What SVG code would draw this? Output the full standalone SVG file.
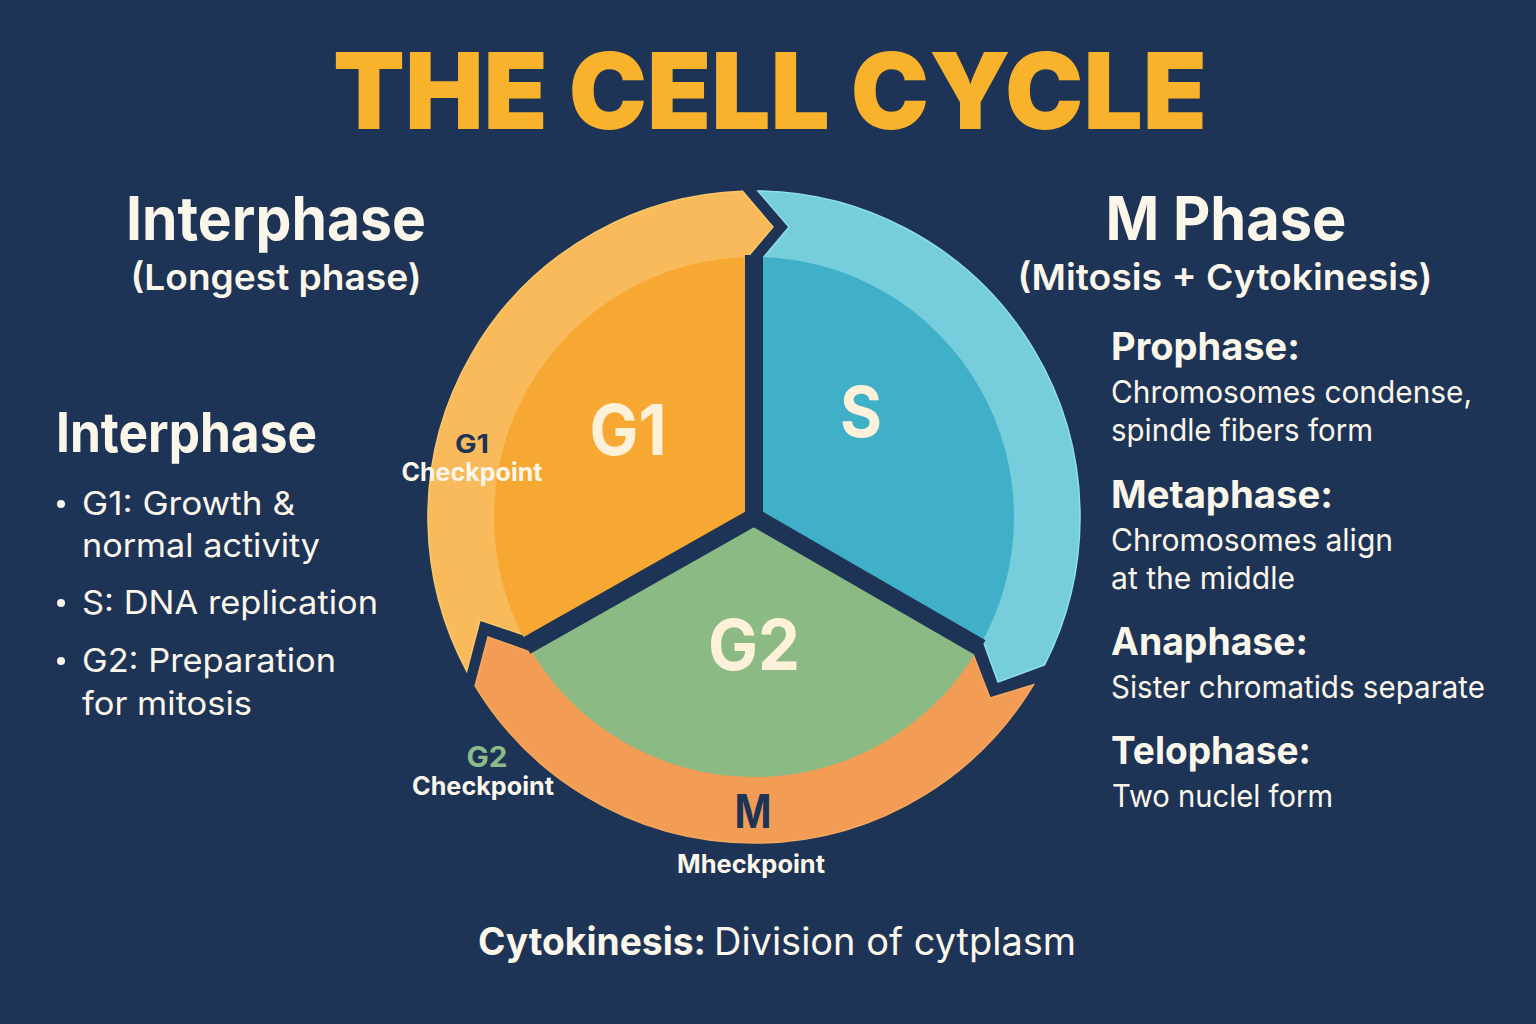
<svg xmlns="http://www.w3.org/2000/svg" width="1536" height="1024" viewBox="0 0 1536 1024">
<style>
text { font-family: Inter, "Noto Sans", "Liberation Sans", sans-serif; fill: #FBF6EA; }
.title { font-size: 106px; font-weight: 900; fill: #F9B22B; }
.h1 { font-size: 60px; font-weight: 700; }
.sub { font-size: 36px; font-weight: 600; }
.h2 { font-size: 55px; font-weight: 700; }
.li { font-size: 33px; font-weight: 400; }
.ph { font-size: 38px; font-weight: 700; }
.bd { font-size: 31px; font-weight: 400; }
.big { font-size: 70px; font-weight: 700; fill: #FDF1DA; }
.ck { font-size: 25px; font-weight: 700; }
.nv { fill: #1E3456; }
.gap { stroke: #1E3456; stroke-width: 18; fill: none; }
</style>
<rect width="1536" height="1024" fill="#1E3456"/>

<text class="title" x="770" y="129" text-anchor="middle" textLength="874" lengthAdjust="spacingAndGlyphs">THE CELL CYCLE</text>

<g id="ring-arrows">
  <path id="arrow-g1" d="M466.7,671.1 A326,326 0 0 1 742.6,191.2 L773,227 L745,260 L745.3,267.2 A250,250 0 0 0 532,632.3 L525.5,635.5 L480,620 Z" fill="#F8BA5B" stroke="#FBC868" stroke-width="1.5"/>
  <path id="arrow-s" d="M758,191 A326,326 0 0 1 1044.5,665 L998,682 L982,638 L975,634.2 A250,250 0 0 0 763,267.2 L763,258 L789,227 Z" fill="#76CDDB" stroke="#8FE0EA" stroke-width="1.5"/>
  <path id="arrow-m" d="M1033.4,684.9 A326,326 0 0 1 475.1,685.9 L488,637 L532.1,652.8 L540.8,647.9 A250,250 0 0 0 966,649.8 L972.9,653.8 L990,698 Z" fill="#F39C55" stroke="#F6A85C" stroke-width="1.5"/>
</g>

<g id="node-g1">
  <path d="M754,517 L527.7,645 A260,260 0 0 1 754,257 Z" fill="#F6A832"/>
  <text class="big" x="628" y="455" text-anchor="middle" textLength="77" lengthAdjust="spacingAndGlyphs">G1</text>
</g>
<g id="node-s">
  <path d="M754,517 L754,257 A260,260 0 0 1 979.2,647 Z" fill="#3FB0C8"/>
  <text class="big" x="861" y="437" text-anchor="middle" textLength="42" lengthAdjust="spacingAndGlyphs">S</text>
</g>
<g id="node-g2">
  <path d="M754,517 L979.2,647 A260,260 0 0 1 527.7,645 Z" fill="#8BBA84"/>
  <text class="big" x="754" y="670" text-anchor="middle" textLength="92" lengthAdjust="spacingAndGlyphs">G2</text>
</g>
<g id="separators">
  <line class="gap" x1="754" y1="517" x2="754" y2="255"/>
  <line class="gap" x1="754" y1="517" x2="525.9" y2="646"/>
  <line class="gap" x1="754" y1="517" x2="981" y2="648"/>
  <circle cx="754" cy="517" r="9" fill="#1E3456"/>
</g>

<g id="label-g1-checkpoint">
  <text class="ck nv" x="472" y="453" text-anchor="middle" font-size="26" textLength="34" lengthAdjust="spacingAndGlyphs">G1</text>
  <text class="ck" x="472" y="481" text-anchor="middle" textLength="141" lengthAdjust="spacingAndGlyphs">Checkpoint</text>
</g>
<g id="label-g2-checkpoint">
  <text class="ck" x="487" y="767" text-anchor="middle" style="font-size:28px;fill:#8BBB88" textLength="41" lengthAdjust="spacingAndGlyphs">G2</text>
  <text class="ck" x="483" y="795" text-anchor="middle" textLength="142" lengthAdjust="spacingAndGlyphs">Checkpoint</text>
</g>
<g id="label-m-checkpoint">
  <text class="nv" x="753" y="828" text-anchor="middle" style="font-size:46px;font-weight:700;fill:#1E3456" textLength="37" lengthAdjust="spacingAndGlyphs">M</text>
  <text class="ck" x="751" y="873" text-anchor="middle" textLength="148" lengthAdjust="spacingAndGlyphs">Mheckpoint</text>
</g>

<g id="interphase-heading">
  <text class="h1" x="276" y="240" text-anchor="middle" textLength="300" lengthAdjust="spacingAndGlyphs">Interphase</text>
  <text class="sub" x="276" y="290" text-anchor="middle" textLength="291" lengthAdjust="spacingAndGlyphs">(Longest phase)</text>
</g>
<g id="mphase-heading">
  <text class="h1" x="1226" y="240" text-anchor="middle" textLength="241" lengthAdjust="spacingAndGlyphs">M Phase</text>
  <text class="sub" x="1225" y="290" text-anchor="middle" textLength="415" lengthAdjust="spacingAndGlyphs">(Mitosis + Cytokinesis)</text>
</g>

<g id="interphase-list">
  <text class="h2" x="56" y="452" textLength="261" lengthAdjust="spacingAndGlyphs">Interphase</text>
  <circle cx="61" cy="504" r="4" fill="#FBF6EA"/>
  <text class="li" x="82" y="515" textLength="213" lengthAdjust="spacingAndGlyphs">G1: Growth &amp;</text>
  <text class="li" x="82" y="557" textLength="238" lengthAdjust="spacingAndGlyphs">normal activity</text>
  <circle cx="61" cy="603" r="4" fill="#FBF6EA"/>
  <text class="li" x="82" y="614" textLength="296" lengthAdjust="spacingAndGlyphs">S: DNA replication</text>
  <circle cx="61" cy="661" r="4" fill="#FBF6EA"/>
  <text class="li" x="82" y="672" textLength="254" lengthAdjust="spacingAndGlyphs">G2: Preparation</text>
  <text class="li" x="82" y="715" textLength="170" lengthAdjust="spacingAndGlyphs">for mitosis</text>
</g>

<g id="mphase-list">
  <text class="ph" x="1111" y="360" textLength="189" lengthAdjust="spacingAndGlyphs">Prophase:</text>
  <text class="bd" x="1111" y="403" textLength="361" lengthAdjust="spacingAndGlyphs">Chromosomes condense,</text>
  <text class="bd" x="1111" y="441" textLength="262" lengthAdjust="spacingAndGlyphs">spindle fibers form</text>
  <text class="ph" x="1111" y="508" textLength="222" lengthAdjust="spacingAndGlyphs">Metaphase:</text>
  <text class="bd" x="1111" y="551" textLength="282" lengthAdjust="spacingAndGlyphs">Chromosomes align</text>
  <text class="bd" x="1111" y="589" textLength="184" lengthAdjust="spacingAndGlyphs">at the middle</text>
  <text class="ph" x="1111" y="655" textLength="197" lengthAdjust="spacingAndGlyphs">Anaphase:</text>
  <text class="bd" x="1111" y="698" textLength="374" lengthAdjust="spacingAndGlyphs">Sister chromatids separate</text>
  <text class="ph" x="1111" y="764" textLength="200" lengthAdjust="spacingAndGlyphs">Telophase:</text>
  <text class="bd" x="1112" y="807" textLength="221" lengthAdjust="spacingAndGlyphs">Two nuclel form</text>
</g>

<g id="cytokinesis-note">
  <text x="478" y="955" style="font-size:38px;font-weight:700" textLength="228" lengthAdjust="spacingAndGlyphs">Cytokinesis:</text>
  <text x="714" y="955" style="font-size:38px;font-weight:400" textLength="362" lengthAdjust="spacingAndGlyphs">Division of cytplasm</text>
</g>
</svg>
